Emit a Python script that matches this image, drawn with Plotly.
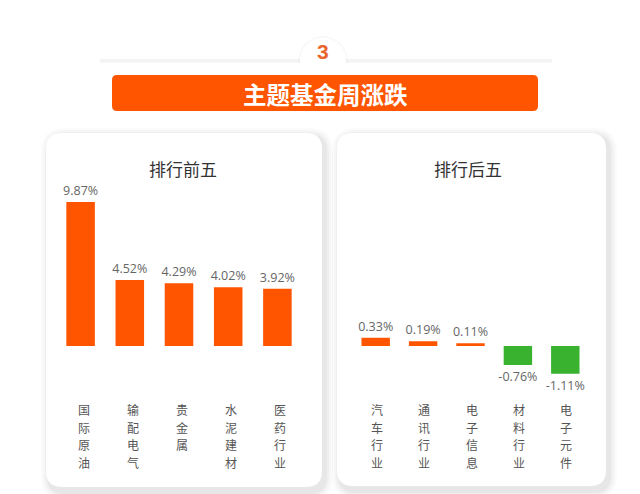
import plotly.graph_objects as go

W, H = 640, 494

top_names = ["国际原油", "输配电气", "贵金属", "水泥建材", "医药行业"]
top_values = [9.87, 4.52, 4.29, 4.02, 3.92]
bottom_names = ["汽车行业", "通讯行业", "电子信息", "材料行业", "电子元件"]
bottom_values = [0.33, 0.19, 0.11, -0.76, -1.11]

title_main = "主题基金周涨跌"
section_no = "3"
left_title = "排行前五"
right_title = "排行后五"

ORANGE = "#FF5500"
GREEN = "#38B22F"
FONT = "Noto Sans CJK SC"


def px(x):
    return x / W


def py(y):
    return 1 - y / H


def rrect(x0, y0, x1, y1, r):
    X0, X1 = px(x0), px(x1)
    Y0, Y1 = py(y0), py(y1)
    rx, ry = r / W, r / H
    return (f"M{X0+rx},{Y0} L{X1-rx},{Y0} Q{X1},{Y0} {X1},{Y0-ry} "
            f"L{X1},{Y1+ry} Q{X1},{Y1} {X1-rx},{Y1} L{X0+rx},{Y1} "
            f"Q{X0},{Y1} {X0},{Y1+ry} L{X0},{Y0-ry} Q{X0},{Y0} {X0+rx},{Y0} Z")


fig = go.Figure()
fig.add_trace(go.Bar(
    x=list(range(len(top_values))), y=top_values,
    marker=dict(color=ORANGE, line=dict(width=0)), width=0.58,
    text=[f"{v:.2f}%" for v in top_values], textposition="outside",
    constraintext="none",
    textfont=dict(size=12.5, color="#666666", family="Open Sans"),
    cliponaxis=False, xaxis="x", yaxis="y", hoverinfo="skip"))
fig.add_trace(go.Bar(
    x=list(range(len(bottom_values))), y=bottom_values,
    marker=dict(color=[ORANGE if v >= 0 else GREEN for v in bottom_values], line=dict(width=0)),
    width=0.6,
    text=[f"{v:.2f}%" for v in bottom_values], textposition="outside",
    constraintext="none",
    textfont=dict(size=12.5, color="#666666", family="Open Sans"),
    cliponaxis=False, xaxis="x2", yaxis="y2", hoverinfo="skip"))

shapes = []
# card shadows + cards
for (x0, y0, x1, y1) in [(46, 133, 322, 487), (337, 133, 606, 486)]:
    for i, op in enumerate([0.03, 0.04, 0.05, 0.06]):
        g = 8 - 2 * i
        shapes.append(dict(type="path", xref="paper", yref="paper",
                           path=rrect(x0 - g + 3, y0 - g + 3, x1 + g + 3, y1 + g + 5, 16 + g),
                           fillcolor=f"rgba(120,120,120,{op})", line=dict(width=0), layer="below"))
    shapes.append(dict(type="path", xref="paper", yref="paper",
                       path=rrect(x0, y0, x1, y1, 16),
                       fillcolor="white", line=dict(width=0), layer="below"))

# header strip soft top edge
for i, op in enumerate([0.025, 0.03, 0.035]):
    shapes.append(dict(type="rect", xref="paper", yref="paper",
                       x0=px(100), x1=px(552), y0=py(60 + 6 - 2 * i), y1=py(59),
                       fillcolor=f"rgba(140,140,140,{op})", line=dict(width=0), layer="below"))
# tab around number
shapes.append(dict(type="circle", xref="paper", yref="paper",
                   x0=px(298), x1=px(348), y0=py(86), y1=py(36),
                   fillcolor="rgba(140,140,140,0.05)", line=dict(width=0), layer="below"))
shapes.append(dict(type="circle", xref="paper", yref="paper",
                   x0=px(300), x1=px(346), y0=py(84), y1=py(38),
                   fillcolor="white", line=dict(width=0), layer="below"))
shapes.append(dict(type="rect", xref="paper", yref="paper",
                   x0=px(100), x1=px(552), y0=py(125), y1=py(63),
                   fillcolor="white", line=dict(width=0), layer="below"))
# orange header bar
shapes.append(dict(type="path", xref="paper", yref="paper",
                   path=rrect(112, 75, 538, 111, 5),
                   fillcolor=ORANGE, line=dict(width=0), layer="below"))

annotations = [
    dict(text=f"<b>{title_main}</b>", x=px(325), y=py(94), xref="paper", yref="paper",
         showarrow=False, font=dict(size=23.5, color="white", family=FONT),
         xanchor="center", yanchor="middle"),
    dict(text=f"<b>{section_no}</b>", x=px(323), y=py(51), xref="paper", yref="paper",
         showarrow=False, font=dict(size=21, color="#E8652E", family="Liberation Sans"),
         xanchor="center", yanchor="middle"),
    dict(text=left_title, x=px(183), y=py(168), xref="paper", yref="paper",
         showarrow=False, font=dict(size=17, color="#333333", family=FONT),
         xanchor="center", yanchor="middle"),
    dict(text=right_title, x=px(468), y=py(169), xref="paper", yref="paper",
         showarrow=False, font=dict(size=17, color="#333333", family=FONT),
         xanchor="center", yanchor="middle"),
]

# vertical category labels, one character per line
LINE0, STEP = 409.5, 17.5
for xref, names, shift in [("x", top_names, 3), ("x2", bottom_names, 1)]:
    for i, name in enumerate(names):
        for j, ch in enumerate(name):
            annotations.append(dict(
                text=ch, x=i, y=py(LINE0 + STEP * j), xref=xref, yref="paper",
                showarrow=False, xshift=shift, borderpad=0,
                font=dict(size=12, color="#555555", family=FONT),
                xanchor="center", yanchor="middle"))

plot_top, plot_bot, zero_y = 190, 398, 346
s1 = 14.6
s2 = 25.0
r1 = [-(plot_bot - zero_y) / s1, (zero_y - plot_top) / s1]
r2 = [-(plot_bot - zero_y) / s2, (zero_y - plot_top) / s2]

axis_common = dict(showgrid=False, zeroline=False, showline=False, ticks="",
                   showticklabels=False, fixedrange=True)

fig.update_layout(
    width=W, height=H, margin=dict(l=0, r=0, t=0, b=0),
    paper_bgcolor="white", plot_bgcolor="rgba(0,0,0,0)",
    showlegend=False, shapes=shapes, annotations=annotations,
    xaxis=dict(domain=[px(56), px(302)], range=[-0.5, 4.5], anchor="y", **axis_common),
    yaxis=dict(domain=[py(plot_bot), py(plot_top)], range=r1, visible=False,
               anchor="x", fixedrange=True),
    xaxis2=dict(domain=[px(352), px(589)], range=[-0.5, 4.5], anchor="y2", **axis_common),
    yaxis2=dict(domain=[py(plot_bot), py(plot_top)], range=r2, visible=False,
                anchor="x2", fixedrange=True),
)

fig.write_html("out.html")
